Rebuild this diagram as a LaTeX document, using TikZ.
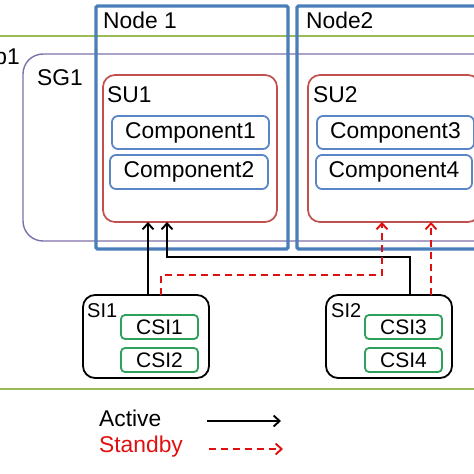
\documentclass[tikz,border=0pt]{standalone}
\usepackage{fontspec}
\setmainfont{Liberation Sans}
\usetikzlibrary{arrows.meta}
\definecolor{grpgreen}{HTML}{9BBB59}
\definecolor{sgpurple}{HTML}{8070AA}
\definecolor{nodeblue}{HTML}{4A7EBB}
\definecolor{compblue}{HTML}{5A86C5}
\definecolor{sured}{HTML}{C0504D}
\definecolor{csigreen}{HTML}{2DA05A}
\definecolor{stbred}{HTML}{E01010}
\tikzset{
  bigfont/.style={font=\fontsize{22.8}{27}\selectfont},
  csifont/.style={font=\fontsize{21}{25}\selectfont},
  sifont/.style={font=\fontsize{20}{24}\selectfont},
  lbl/.style={anchor=base west, inner sep=0pt, bigfont},
  box/.style={draw, inner sep=0pt, outer sep=0pt},
  nodebox/.style={box, draw=nodeblue, line width=3.3pt, rounded corners=1.5pt},
  sgbox/.style={box, draw=sgpurple, line width=1.4pt, rounded corners=20pt},
  subox/.style={box, draw=sured, line width=1.7pt, rounded corners=12pt},
  compbox/.style={box, draw=compblue, line width=1.8pt, rounded corners=6pt, bigfont},
  sibox/.style={box, draw=black, line width=1.8pt, rounded corners=12pt},
  csibox/.style={box, draw=csigreen, line width=1.8pt, rounded corners=4pt, csifont},
  active/.style={draw=black, line width=1.9pt, -{Straight Barb[length=6pt,width=11pt,line width=1.9pt]}},
  standby/.style={draw=stbred, line width=1.9pt, dash pattern=on 7pt off 5pt, -{Straight Barb[length=6pt,width=11pt,line width=1.9pt]}},
}
\begin{document}
\begin{tikzpicture}[x=1pt,y=-1pt]
\useasboundingbox (0,0) rectangle (474,474);
\clip (0,0) rectangle (474,474);
\fill[white] (0,0) rectangle (474,474);
% application group lines
\coordinate (gl1) at (-10,36); \coordinate (gr1) at (484,36);
\coordinate (gl2) at (-10,389); \coordinate (gr2) at (484,389);
\draw[grpgreen, line width=1.7pt] (gl1) -- (gr1);
\draw[grpgreen, line width=1.7pt] (gl2) -- (gr2);
\node[anchor=base east, inner sep=0pt, bigfont] (app) at (20,64) {App1};
% service group
\node[sgbox, minimum width=480pt, minimum height=187pt] (sg1) at (263,147.5) {};
\node[lbl] (sg1l) at (37,85) {SG1};
% nodes
\node[nodebox, minimum width=192pt, minimum height=243pt] (n1) at (192,127.5) {};
\node[nodebox, minimum width=200pt, minimum height=243pt] (n2) at (397,127.5) {};
\node[lbl] (n1l) at (103,28) {Node 1};
\node[lbl] (n2l) at (306,28) {Node2};
% service units
\node[subox, minimum width=174pt, minimum height=147pt] (su1) at (190,148.5) {};
\node[subox, minimum width=172pt, minimum height=147pt] (su2) at (394,148.5) {};
\node[lbl] (su1l) at (107,102) {SU1};
\node[lbl] (su2l) at (313,102) {SU2};
% components
\node[compbox, minimum width=157pt, minimum height=33pt] (c1) at (190.5,132.5) {Component1};
\node[compbox, minimum width=158pt, minimum height=34pt] (c2) at (189,172) {Component2};
\node[compbox, minimum width=157pt, minimum height=33pt] (c3) at (395.5,132.5) {Component3};
\node[compbox, minimum width=156pt, minimum height=34pt] (c4) at (394,172) {Component4};
% service instances
\node[sibox, minimum width=126pt, minimum height=83pt] (si1) at (146,336.5) {};
\node[sibox, minimum width=126pt, minimum height=83pt] (si2) at (389,336.5) {};
\node[anchor=base west, inner sep=0pt, sifont] (si1l) at (87,317) {SI1};
\node[anchor=base west, inner sep=0pt, sifont] (si2l) at (331,317) {SI2};
\node[csibox, minimum width=77pt, minimum height=24pt] (csi1) at (159.5,327) {CSI1};
\node[csibox, minimum width=77pt, minimum height=24pt] (csi2) at (159.5,360) {CSI2};
\node[csibox, minimum width=77pt, minimum height=24pt] (csi3) at (403.5,327) {CSI3};
\node[csibox, minimum width=77pt, minimum height=24pt] (csi4) at (403.5,360) {CSI4};
% connectors
\coordinate (a1) at (148,0);
\coordinate (b1) at (167,257);
\coordinate (b2) at (410,257);
\coordinate (r1) at (161,275);
\coordinate (r2) at (382,275);
\coordinate (r3) at (431,0);
\draw[active] (si1.north -| a1) -- (su1.south -| a1);
\draw[active] (si2.north -| b2) -- (b2) -- (b1) -- (su1.south -| b1);
\draw[standby] (si1.north -| r1) -- (r1) -- (r2) -- (su2.south -| r2);
\draw[standby] (si2.north -| r3) -- (su2.south -| r3);
% legend
\node[lbl] (lact) at (99,426) {Active};
\node[lbl, text=stbred] (lstb) at (99,452) {Standby};
\coordinate (la1) at (207,421); \coordinate (la2) at (281,421);
\coordinate (ls1) at (209,449); \coordinate (ls2) at (283,449);
\draw[active] (la1) -- (la2);
\draw[standby] (ls1) -- (ls2);
\end{tikzpicture}
\end{document}
